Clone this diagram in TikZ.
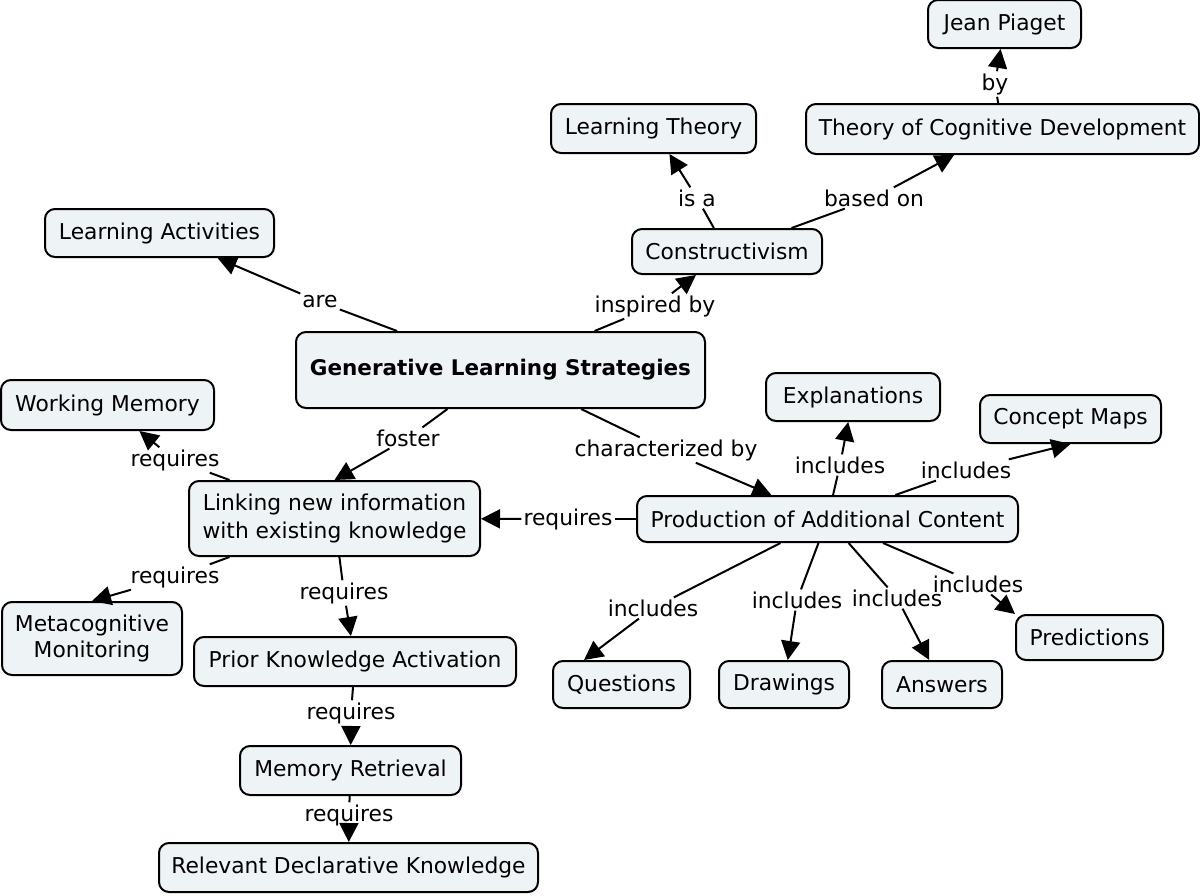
\documentclass[tikz,border=0pt]{standalone}
\usepackage{fontspec}
\setmainfont{DejaVu Sans}
\usetikzlibrary{arrows.meta}
\definecolor{boxfill}{HTML}{EEF3F6}
\begin{document}
\begin{tikzpicture}[x=1pt,y=-1pt,
  concept/.style={draw, line width=2pt, rounded corners=10pt, fill=boxfill,
    align=center, inner sep=0pt, font=\fontsize{21.8}{27.5}\selectfont},
  lab/.style={inner sep=2pt, font=\fontsize{21.8}{25}\selectfont},
  link/.style={line width=2pt},
  arr/.style={line width=2pt, -{Triangle[length=19pt,width=19pt]}}]
\useasboundingbox (0,0) rectangle (1200,895);
% concepts
\node[concept, minimum width=153pt, minimum height=48pt] (jp) at (1004.5,24) {Jean Piaget};
\node[concept, minimum width=393pt, minimum height=50pt] (tcd) at (1002.5,129) {Theory of Cognitive Development};
\node[concept, minimum width=205pt, minimum height=49pt] (lt) at (653.5,128.5) {Learning Theory};
\node[concept, minimum width=190pt, minimum height=45pt] (con) at (727,251.5) {Constructivism};
\node[concept, minimum width=229pt, minimum height=48pt] (la) at (159.5,233) {Learning Activities};
\node[concept, minimum width=409pt, minimum height=76pt, font=\fontsize{21.5}{27}\selectfont\bfseries] (gls) at (500.5,370) {Generative Learning Strategies};
\node[concept, minimum width=213pt, minimum height=50pt] (wm) at (107.5,405) {Working Memory};
\node[concept, minimum width=174pt, minimum height=48pt] (expl) at (853,397) {Explanations};
\node[concept, minimum width=181pt, minimum height=48pt] (cm) at (1070.5,419) {Concept Maps};
\node[concept, minimum width=291pt, minimum height=75pt] (link) at (334.5,518.5) {Linking new information\\with existing knowledge};
\node[concept, minimum width=381pt, minimum height=46pt] (prod) at (827.5,519) {Production of Additional Content};
\node[concept, minimum width=180pt, minimum height=73pt, font=\fontsize{21.8}{26}\selectfont] (meta) at (92,638.5) {Metacognitive\\Monitoring};
\node[concept, minimum width=322pt, minimum height=49pt] (prior) at (355,661.5) {Prior Knowledge Activation};
\node[concept, minimum width=137pt, minimum height=47pt] (q) at (621.5,684.5) {Questions};
\node[concept, minimum width=130pt, minimum height=47pt] (d) at (784,684.5) {Drawings};
\node[concept, minimum width=120pt, minimum height=47pt] (a) at (942,684.5) {Answers};
\node[concept, minimum width=147pt, minimum height=45pt] (p) at (1089.5,637.5) {Predictions};
\node[concept, minimum width=221pt, minimum height=49pt] (mr) at (350.5,770.5) {Memory Retrieval};
\node[concept, minimum width=379pt, minimum height=49pt] (rdk) at (348.5,867.5) {Relevant Declarative Knowledge};
% link labels
\node[lab] (lby) at (995,84) {by};
\node[lab] (lisa) at (697,198) {is a};
\node[lab] (lbased) at (874,198) {based on};
\node[lab] (lare) at (320,302) {are};
\node[lab] (linsp) at (655,306) {inspired by};
\node[lab] (lfoster) at (408,438) {foster};
\node[lab] (lchar) at (666,450) {characterized by};
\node[lab] (lreqwm) at (175,460) {requires};
\node[lab] (linexpl) at (840,465) {includes};
\node[lab] (lincm) at (966,470) {includes};
\node[lab] (lreqlink) at (568,519) {requires};
\node[lab] (lreqmeta) at (175,577) {requires};
\node[lab] (lreqprior) at (344,593) {requires};
\node[lab] (linq) at (653,608) {includes};
\node[lab] (lind) at (797,600) {includes};
\node[lab] (lina) at (897,598) {includes};
\node[lab] (linp) at (978,584) {includes};
\node[lab] (lreqmr) at (351,713) {requires};
\node[lab] (lreqrdk) at (349,815) {requires};
% connectors
\draw[link] (tcd) -- (lby); \draw[arr] (lby) -- (jp);
\draw[link] (con) -- (lisa); \draw[arr] (lisa) -- (lt);
\draw[link] (con) -- (lbased); \draw[arr] (lbased) -- (tcd);
\draw[link] (gls) -- (lare); \draw[arr] (lare) -- (la);
\draw[link] (gls) -- (linsp); \draw[arr] (linsp) -- (con);
\draw[link] (gls) -- (lfoster); \draw[arr] (lfoster) -- (link.north);
\draw[link] (gls) -- (lchar); \draw[arr] (lchar) -- (prod);
\draw[link] (link) -- (lreqwm); \draw[arr] (lreqwm) -- (wm);
\draw[link] (prod) -- (linexpl); \draw[arr] (linexpl) -- (expl);
\draw[link] (prod) -- (lincm); \draw[arr] (lincm) -- (cm.south);
\draw[link] (prod) -- (lreqlink); \draw[arr] (lreqlink) -- (link);
\draw[link] (link) -- (lreqmeta); \draw[arr] (lreqmeta) -- (meta.north);
\draw[link] (link) -- (lreqprior); \draw[arr] (lreqprior) -- (prior);
\draw[link] (prod) -- (linq); \draw[arr] (linq) -- ([xshift=32pt]q.north west);
\draw[link] (prod) -- (lind); \draw[arr] (lind) -- (d);
\draw[link] (prod) -- (lina); \draw[arr] (lina) -- (a);
\draw[link] (prod) -- (linp); \draw[arr] (linp) -- (p.north west);
\draw[link] (prior) -- (lreqmr); \draw[arr] (lreqmr) -- (mr);
\draw[link] (mr) -- (lreqrdk); \draw[arr] (lreqrdk) -- (rdk);
\end{tikzpicture}
\end{document}
